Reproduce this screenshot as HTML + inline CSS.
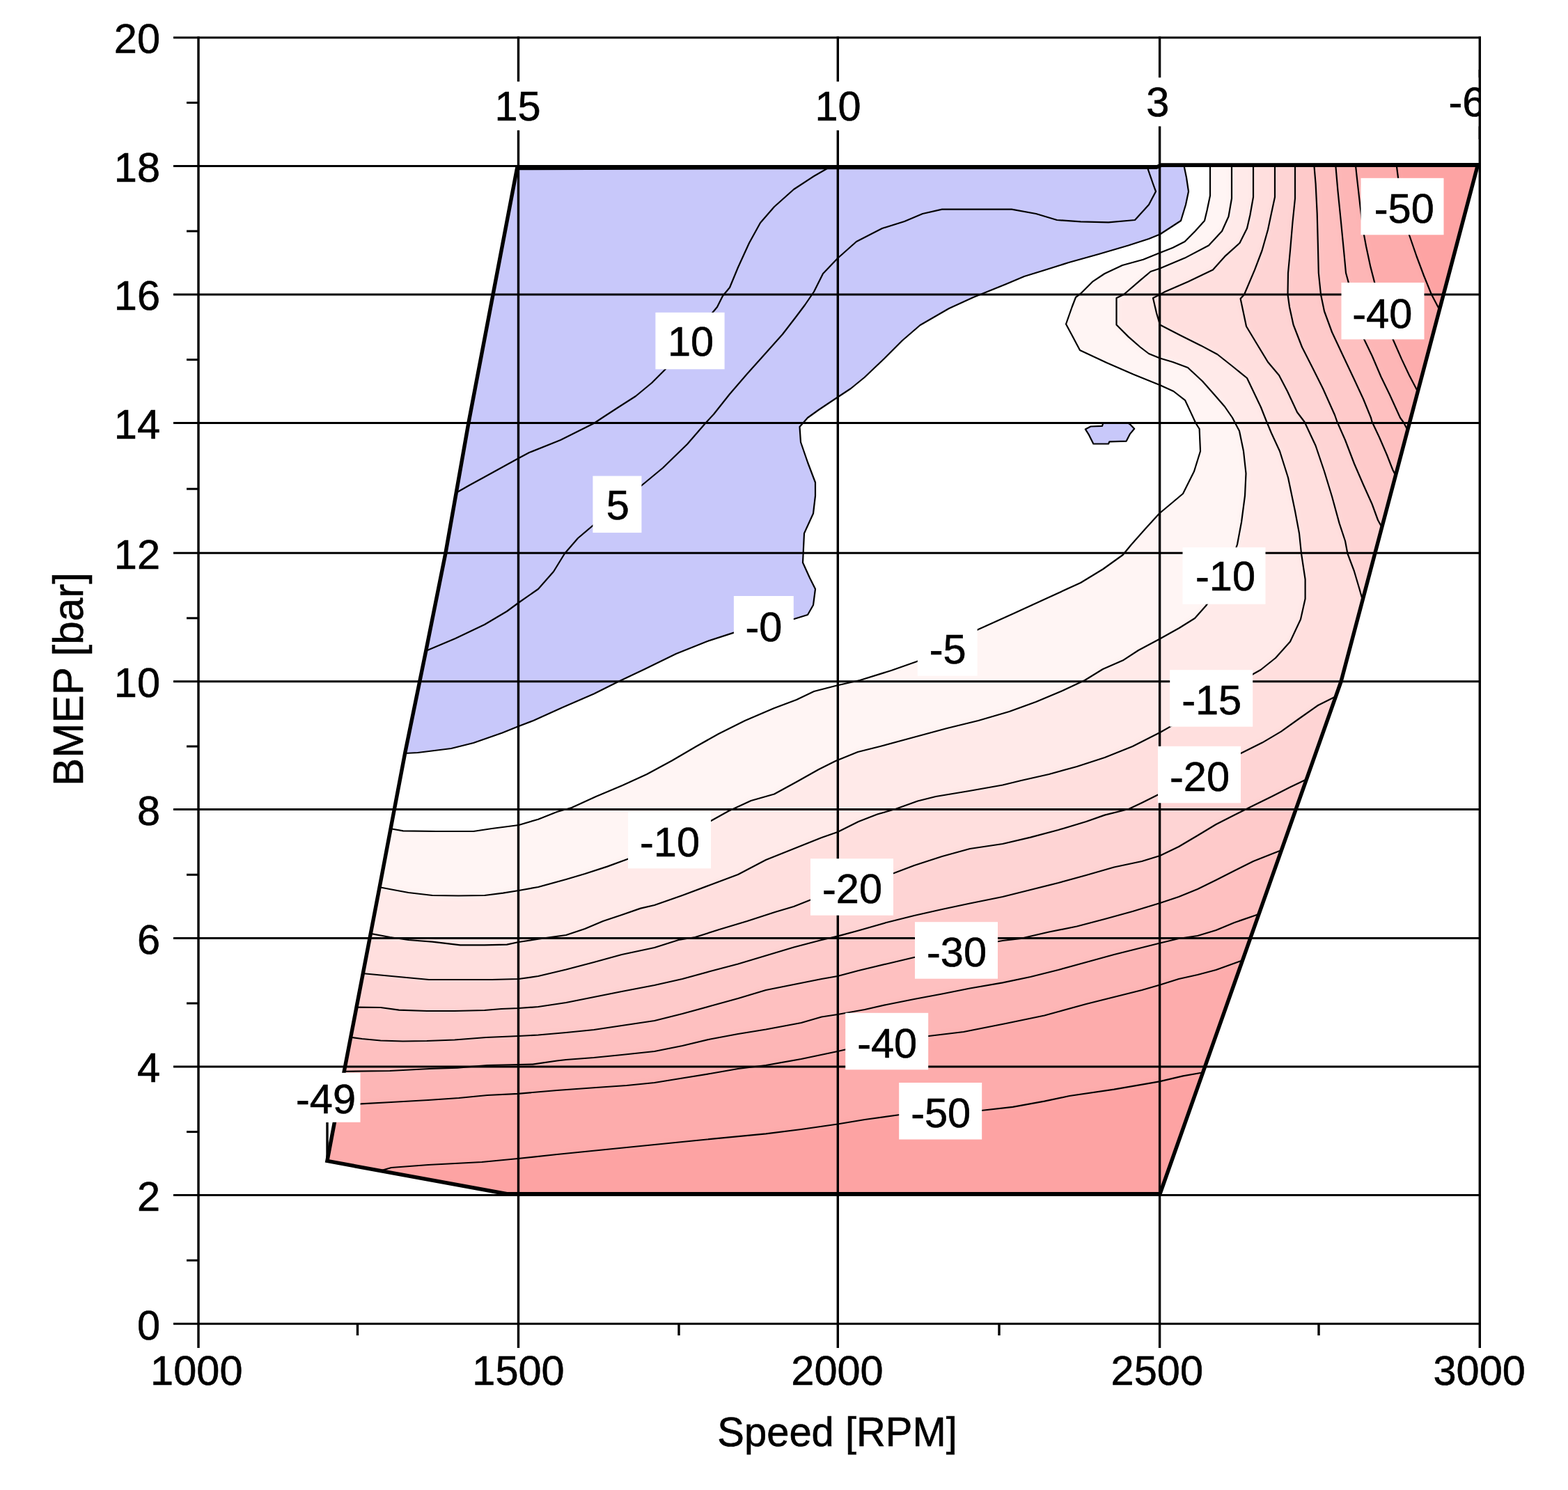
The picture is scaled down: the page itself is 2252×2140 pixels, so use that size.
<!DOCTYPE html>
<html lang="en"><head><meta charset="utf-8"><title>BMEP vs Speed contour map</title>
<style>html,body{margin:0;padding:0;background:#fff}body{width:2252px;height:2140px;overflow:hidden}svg{display:block}text{font-family:'Liberation Sans', Arial, Helvetica, sans-serif;font-size:59.5px;fill:#000;stroke:#000;stroke-width:0.6px}</style></head><body>
<svg width="2252" height="2140" viewBox="0 0 2252 2140" role="img" aria-label="Contour map of BMEP versus engine speed">
<defs>
<clipPath id="cp"><path d="M742.6,241.6 L1100.0,240.6 L1661.0,240.2 L1668.0,237.0 L2122.5,236.7 L1926.0,979.0 L1666.0,1714.7 L728.0,1714.7 L469.9,1667.4 L494.8,1536.0 L544.6,1277.0 L582.0,1080.0 L611.5,936.0 L640.0,794.0 L673.0,607.0Z"/></clipPath>
<clipPath id="plot"><rect x="0" y="0" width="2125.3" height="2140"/></clipPath>
<filter id="bl" filterUnits="userSpaceOnUse" x="0" y="0" width="2252" height="2140" color-interpolation-filters="sRGB"><feGaussianBlur stdDeviation="5"/></filter>
</defs>
<rect width="2252" height="2140" fill="#fff"/>
<g clip-path="url(#cp)">
<rect width="2252" height="2140" fill="#fff"/>
<g filter="url(#bl)">
<rect x="-50" y="-50" width="2352" height="2240" fill="rgb(255,245,244)"/>
<path d="M1769.0,150.0 L1769.0,238.0 L1769.0,285.0 L1764.5,311.0 L1755.0,332.0 L1736.0,352.5 L1701.6,370.6 L1666.0,385.5 L1652.6,390.0 L1637.6,402.6 L1614.0,423.0 L1603.5,428.0 L1603.5,466.5 L1620.6,483.6 L1637.6,498.5 L1650.0,508.0 L1666.0,514.5 L1684.5,520.0 L1706.0,528.0 L1727.0,547.5 L1744.0,566.7 L1759.0,584.0 L1770.0,600.0 L1780.0,619.0 L1786.0,648.0 L1789.5,680.0 L1788.0,712.0 L1783.0,750.0 L1777.0,782.0 L1760.0,830.0 L1732.0,870.0 L1716.0,888.0 L1693.6,902.0 L1665.0,918.0 L1635.0,934.0 L1612.6,948.6 L1584.0,961.0 L1558.0,977.0 L1526.0,992.0 L1488.0,1008.0 L1449.5,1022.0 L1405.0,1035.0 L1360.0,1046.0 L1312.0,1059.0 L1264.0,1072.0 L1232.0,1080.0 L1200.0,1093.0 L1176.0,1105.0 L1144.0,1123.0 L1112.0,1140.5 L1078.6,1150.0 L1046.6,1164.7 L1021.0,1179.0 L960.0,1208.0 L901.0,1234.0 L872.0,1244.6 L840.0,1255.0 L813.0,1263.0 L773.0,1274.0 L745.0,1279.0 L722.5,1282.7 L696.0,1286.0 L658.5,1286.5 L621.0,1286.0 L586.6,1282.0 L565.0,1278.0 L544.0,1274.0 L504.7,1266.5 L-50.0,1266.5 L-50.0,2190.0 L2302.0,2190.0 L2302.0,-50.0 L1769.0,-50.0Z" fill="rgb(255,234,233)"/>
<path d="M1800.0,150.0 L1800.0,238.0 L1800.0,283.0 L1795.4,309.0 L1791.0,328.0 L1780.5,349.0 L1759.0,368.4 L1742.0,387.6 L1706.0,404.7 L1672.0,419.6 L1666.0,423.0 L1656.0,428.0 L1661.0,449.5 L1666.0,466.5 L1695.0,481.4 L1725.0,496.4 L1748.5,509.0 L1770.0,526.0 L1791.0,543.0 L1801.0,564.0 L1811.0,585.0 L1818.5,604.0 L1826.0,622.0 L1838.0,648.0 L1850.0,686.0 L1860.0,734.0 L1866.0,766.0 L1869.0,795.0 L1874.6,832.0 L1874.6,860.0 L1868.0,889.5 L1853.0,921.5 L1832.0,945.0 L1810.7,962.0 L1800.0,968.0 L1740.0,1008.0 L1682.5,1042.6 L1666.0,1052.0 L1626.6,1072.0 L1586.6,1088.0 L1546.6,1101.0 L1506.6,1112.0 L1466.7,1121.0 L1440.0,1127.5 L1392.0,1136.0 L1344.0,1144.0 L1318.0,1150.5 L1286.0,1162.0 L1260.0,1169.5 L1233.0,1180.0 L1203.0,1195.0 L1180.0,1203.0 L1140.0,1219.0 L1100.0,1235.0 L1060.0,1256.0 L1020.0,1271.0 L980.0,1286.0 L940.0,1300.0 L920.0,1304.6 L893.0,1314.0 L866.0,1323.0 L840.0,1334.0 L813.0,1343.0 L773.0,1348.6 L745.0,1353.0 L728.0,1356.6 L696.0,1357.4 L661.0,1357.4 L621.0,1352.6 L586.6,1350.0 L560.0,1346.0 L531.0,1340.6 L491.7,1333.3 L-50.0,1333.3 L-50.0,2190.0 L2302.0,2190.0 L2302.0,-50.0 L1800.0,-50.0Z" fill="rgb(255,223,222)"/>
<path d="M1831.0,150.0 L1831.0,238.0 L1831.0,283.0 L1825.0,311.0 L1821.0,330.0 L1812.5,360.0 L1802.0,387.6 L1787.0,423.0 L1781.6,429.0 L1785.0,445.0 L1790.0,468.7 L1804.0,492.0 L1821.0,520.0 L1837.0,539.0 L1849.0,562.0 L1863.0,592.0 L1873.6,606.0 L1889.5,640.0 L1902.0,677.0 L1913.0,713.0 L1923.6,751.6 L1932.0,777.0 L1935.4,795.0 L1944.8,820.0 L1952.5,846.0 L1957.0,862.0 L1963.8,886.1 L2060.0,930.0 L1937.4,990.8 L1915.0,1002.0 L1893.0,1013.0 L1866.0,1032.0 L1840.0,1050.6 L1813.0,1066.6 L1781.0,1082.6 L1722.0,1112.0 L1664.0,1141.0 L1640.0,1153.0 L1621.0,1162.0 L1586.6,1170.6 L1560.0,1180.0 L1520.0,1192.0 L1480.0,1202.6 L1440.0,1212.0 L1393.0,1219.0 L1353.0,1230.0 L1313.0,1243.0 L1284.0,1254.0 L1223.0,1273.0 L1164.0,1292.6 L1140.0,1302.0 L1113.0,1310.0 L1073.0,1323.0 L1033.0,1335.0 L998.6,1346.0 L974.6,1350.0 L940.0,1361.0 L893.0,1371.0 L853.0,1382.0 L813.0,1392.5 L773.0,1402.0 L745.0,1406.0 L706.5,1407.0 L653.0,1407.0 L616.0,1407.0 L573.0,1403.0 L546.6,1400.5 L520.0,1398.0 L480.2,1394.3 L-50.0,1394.3 L-50.0,2190.0 L2302.0,2190.0 L2302.0,-50.0 L1831.0,-50.0Z" fill="rgb(254,212,212)"/>
<path d="M1860.0,150.0 L1860.0,238.0 L1860.0,285.0 L1856.5,319.0 L1853.0,360.0 L1850.0,392.0 L1849.5,423.0 L1852.0,441.0 L1857.6,466.5 L1870.0,498.5 L1885.0,528.0 L1900.0,558.0 L1917.0,596.0 L1920.5,606.0 L1932.0,632.0 L1945.0,666.0 L1958.0,696.0 L1970.6,724.0 L1979.0,747.0 L1985.0,758.0 L1997.0,779.9 L2080.0,930.0 L1897.5,1109.1 L1875.0,1120.0 L1853.0,1130.6 L1826.5,1144.0 L1800.0,1157.0 L1773.0,1170.6 L1746.5,1184.0 L1720.0,1200.0 L1693.0,1216.0 L1666.0,1229.0 L1640.0,1237.0 L1600.0,1245.5 L1560.0,1257.0 L1520.0,1268.0 L1480.0,1278.0 L1440.0,1288.0 L1393.0,1297.5 L1353.0,1306.0 L1313.0,1315.0 L1273.0,1325.0 L1233.0,1336.5 L1203.0,1344.6 L1180.0,1350.0 L1140.0,1360.5 L1100.0,1372.5 L1060.0,1384.5 L1020.0,1395.0 L980.0,1406.0 L940.0,1415.0 L893.0,1424.0 L853.0,1432.0 L813.0,1440.0 L773.0,1446.0 L745.0,1448.0 L720.0,1449.0 L696.0,1451.0 L653.0,1452.0 L613.0,1452.0 L573.0,1450.6 L546.6,1447.0 L511.0,1446.6 L471.0,1446.2 L-50.0,1446.2 L-50.0,2190.0 L2302.0,2190.0 L2302.0,-50.0 L1860.0,-50.0Z" fill="rgb(254,202,202)"/>
<path d="M1887.4,150.0 L1887.4,238.0 L1889.6,264.0 L1891.7,306.6 L1892.8,349.0 L1893.8,392.0 L1897.0,423.0 L1902.0,447.0 L1913.0,477.0 L1928.0,509.0 L1945.0,545.0 L1958.0,573.0 L1969.0,600.0 L1970.6,606.0 L1981.0,628.0 L1992.0,653.5 L2000.4,675.0 L2005.0,684.0 L2016.4,706.3 L2100.0,930.0 L1861.3,1212.9 L1838.0,1222.0 L1826.5,1226.5 L1800.0,1237.0 L1773.0,1250.5 L1746.5,1264.0 L1720.0,1277.0 L1693.0,1288.0 L1666.0,1297.0 L1626.6,1309.0 L1586.6,1320.0 L1546.6,1330.5 L1506.6,1338.5 L1466.7,1347.8 L1440.0,1351.0 L1373.0,1363.0 L1313.0,1375.0 L1273.0,1384.5 L1233.0,1394.0 L1203.0,1402.0 L1180.0,1406.0 L1140.0,1414.0 L1100.0,1422.0 L1060.0,1434.0 L1020.0,1445.0 L980.0,1456.0 L940.0,1466.0 L893.0,1473.0 L853.0,1479.0 L813.0,1483.0 L773.0,1486.5 L745.0,1488.0 L698.0,1490.0 L653.0,1493.5 L613.0,1495.0 L578.6,1495.5 L546.6,1494.5 L520.0,1492.0 L501.0,1489.5 L461.3,1484.3 L-50.0,1484.3 L-50.0,2190.0 L2302.0,2190.0 L2302.0,-50.0 L1887.4,-50.0Z" fill="rgb(254,192,192)"/>
<path d="M1918.3,150.0 L1918.3,238.0 L1921.5,274.6 L1925.8,317.0 L1930.0,360.0 L1933.0,392.0 L1936.5,404.7 L1945.0,440.0 L1952.0,465.0 L1959.0,487.0 L1970.6,511.0 L1983.4,541.0 L1996.0,567.0 L2011.0,600.0 L2015.4,606.0 L2024.0,622.0 L2035.8,644.0 L2120.0,930.0 L1825.6,1306.9 L1802.0,1315.0 L1773.0,1325.0 L1746.5,1336.0 L1720.0,1344.0 L1693.0,1348.0 L1666.0,1354.5 L1640.0,1361.0 L1600.0,1371.0 L1560.0,1382.0 L1520.0,1393.0 L1480.0,1403.0 L1440.0,1411.4 L1393.0,1419.5 L1353.0,1427.5 L1313.0,1435.0 L1273.0,1443.0 L1242.0,1450.0 L1203.0,1457.0 L1180.0,1460.5 L1150.7,1469.0 L1100.0,1478.5 L1060.0,1485.0 L1020.0,1492.5 L980.0,1502.0 L940.0,1510.0 L893.0,1515.0 L853.0,1519.0 L813.0,1522.0 L800.0,1523.5 L765.0,1528.6 L745.0,1529.0 L700.0,1530.0 L657.0,1533.7 L617.0,1535.0 L560.0,1538.0 L494.0,1538.8 L454.0,1539.3 L-50.0,1539.3 L-50.0,2190.0 L2302.0,2190.0 L2302.0,-50.0 L1918.3,-50.0Z" fill="rgb(253,182,182)"/>
<path d="M1947.0,150.0 L1947.0,238.0 L1949.0,256.5 L1953.5,296.0 L1958.0,332.0 L1962.0,353.5 L1968.4,383.4 L1974.0,405.0 L1983.0,430.0 L1992.0,460.0 L2000.4,487.0 L2013.0,515.6 L2024.0,539.0 L2037.0,564.0 L2048.5,586.2 L2140.0,930.0 L1800.5,1373.5 L1777.0,1382.0 L1746.5,1393.0 L1720.0,1400.0 L1693.0,1406.0 L1666.0,1414.5 L1640.0,1422.0 L1600.0,1432.0 L1560.0,1442.0 L1520.0,1453.0 L1500.0,1458.5 L1444.5,1470.0 L1384.0,1482.0 L1334.0,1488.0 L1273.0,1497.0 L1214.0,1507.5 L1203.0,1510.0 L1150.7,1521.0 L1100.0,1530.0 L1060.0,1535.0 L1020.0,1542.0 L980.0,1548.5 L940.0,1555.0 L900.0,1559.0 L856.0,1562.0 L800.0,1566.0 L744.0,1570.8 L700.0,1573.0 L659.0,1577.0 L615.0,1580.0 L562.0,1583.0 L518.5,1585.4 L484.0,1586.0 L444.0,1586.7 L-50.0,1586.7 L-50.0,2190.0 L2302.0,2190.0 L2302.0,-50.0 L1947.0,-50.0Z" fill="rgb(253,172,172)"/>
<path d="M2005.8,150.0 L2005.8,238.0 L2008.0,255.0 L2013.0,290.0 L2019.0,320.0 L2024.0,337.5 L2034.5,368.0 L2045.0,396.0 L2056.0,423.0 L2067.0,444.0 L2078.6,466.1 L2160.0,930.0 L1748.6,1536.7 L1724.0,1541.0 L1699.0,1545.4 L1665.0,1553.4 L1600.0,1564.6 L1536.0,1574.0 L1500.0,1581.7 L1454.6,1589.8 L1409.0,1595.0 L1350.0,1598.0 L1292.5,1601.0 L1242.0,1608.0 L1203.0,1614.5 L1150.7,1622.0 L1100.0,1628.3 L1000.0,1638.0 L900.0,1648.0 L800.0,1658.0 L744.0,1664.0 L692.0,1669.0 L615.0,1673.0 L562.0,1677.0 L548.0,1681.0 L509.5,1692.0 L-50.0,1692.0 L-50.0,2190.0 L2302.0,2190.0 L2302.0,-50.0 L2005.8,-50.0Z" fill="rgb(253,163,163)"/>
</g>
<path d="M1738.0,150.0 L1738.0,238.0 L1738.0,281.0 L1733.6,302.0 L1730.0,317.0 L1716.5,332.0 L1701.6,347.0 L1684.5,355.7 L1666.0,363.0 L1642.0,372.7 L1612.0,381.0 L1586.5,393.0 L1569.0,404.7 L1552.0,421.7 L1545.0,427.0 L1539.6,441.0 L1531.0,465.5 L1539.6,481.4 L1551.0,503.0 L1589.5,521.0 L1628.0,537.7 L1665.7,553.0 L1685.5,562.0 L1702.0,574.8 L1709.8,591.4 L1717.5,608.0 L1722.6,616.0 L1724.0,648.0 L1715.0,677.0 L1699.0,709.0 L1680.0,725.0 L1665.0,737.5 L1644.5,760.0 L1625.0,782.0 L1612.6,797.0 L1584.0,817.5 L1552.0,837.0 L1504.0,859.0 L1456.0,881.0 L1405.0,904.0 L1317.0,950.0 L1280.0,963.0 L1235.0,977.0 L1200.0,985.0 L1169.0,993.0 L1144.0,1005.0 L1112.0,1017.0 L1070.0,1035.0 L1032.0,1054.0 L1000.0,1072.0 L965.0,1092.5 L929.0,1112.0 L894.0,1128.0 L856.0,1144.0 L821.0,1160.0 L800.0,1166.0 L773.0,1176.7 L745.0,1185.0 L706.5,1190.0 L680.0,1194.0 L627.0,1194.0 L579.0,1193.4 L560.0,1190.0 L520.6,1183.0 L-50.0,1183.0 L-50.0,-50.0 L1738.0,-50.0Z" fill="#fff"/>
<path d="M1700.5,150.0 L1700.5,238.0 L1704.0,255.0 L1707.0,275.0 L1703.0,294.0 L1696.0,317.0 L1666.0,336.5 L1650.0,343.0 L1620.6,352.5 L1578.0,365.0 L1535.0,377.0 L1497.0,389.0 L1471.0,397.0 L1445.0,408.0 L1398.0,427.0 L1363.0,443.0 L1321.5,467.0 L1296.0,489.0 L1270.0,515.0 L1241.6,542.0 L1222.0,558.0 L1200.0,572.5 L1176.0,588.5 L1160.0,600.0 L1148.5,613.0 L1150.0,635.0 L1160.0,664.0 L1171.0,693.0 L1171.0,712.0 L1168.0,737.5 L1155.0,766.0 L1153.0,808.0 L1163.0,830.0 L1171.0,846.0 L1168.0,869.0 L1160.0,883.0 L1140.5,889.0 L1100.0,893.0 L1054.0,908.6 L1016.0,921.0 L971.0,939.0 L926.0,961.0 L888.0,979.0 L853.0,996.6 L808.0,1016.0 L766.0,1035.0 L745.0,1043.0 L721.5,1052.5 L680.0,1067.0 L648.0,1075.0 L600.0,1081.0 L581.0,1082.0 L541.1,1084.1 L-50.0,1084.1 L-50.0,-50.0 L1700.5,-50.0Z" fill="#c8c8fa"/>
<path d="M1558.8,616.4 L1566.5,612.5 L1583.0,611.9 L1584.4,607.5 L1620.3,607.5 L1622.8,609.3 L1629.2,615.7 L1622.8,623.4 L1617.7,633.6 L1593.4,634.3 L1592.0,637.5 L1570.4,637.5 L1564.0,624.7Z" fill="#c8c8fa"/>
<g fill="none" stroke="#000" stroke-width="2.2" stroke-linejoin="round">
<path d="M1200.2,235.0 L1195.0,238.0 L1169.0,253.0 L1140.0,272.0 L1112.0,297.0 L1092.0,320.0 L1076.0,349.0 L1060.0,384.0 L1048.0,413.0 L1038.0,425.0 L1030.0,441.0 L955.0,531.0 L936.0,550.0 L913.0,569.0 L888.0,585.0 L865.0,600.0 L853.0,608.0 L805.0,632.0 L760.0,650.0 L745.0,658.0 L696.0,685.0 L674.0,697.0 L653.0,709.0 L647.8,712.0"/>
<path d="M1645.0,232.3 L1647.0,238.0 L1656.0,264.0 L1660.0,275.0 L1650.0,294.0 L1630.0,316.0 L1592.0,319.4 L1552.0,318.3 L1518.0,316.0 L1488.0,307.0 L1453.0,300.6 L1405.0,300.6 L1353.0,300.6 L1325.0,307.0 L1299.0,318.0 L1267.0,328.0 L1230.0,347.0 L1203.0,371.0 L1182.0,393.0 L1169.0,419.0 L1156.0,438.0 L1144.0,454.0 L1124.0,480.0 L1099.0,508.0 L1073.0,537.0 L1048.0,566.0 L1025.0,595.0 L1013.0,608.0 L987.0,638.0 L952.0,672.0 L923.0,696.0 L853.0,753.5 L830.0,773.0 L811.0,795.0 L795.0,821.0 L773.0,846.0 L745.0,865.5 L728.0,878.0 L696.0,897.0 L654.0,917.0 L609.0,936.0 L603.5,938.3"/>
<path d="M1699.3,232.1 L1700.5,238.0 L1704.0,255.0 L1707.0,275.0 L1703.0,294.0 L1696.0,317.0 L1666.0,336.5 L1650.0,343.0 L1620.6,352.5 L1578.0,365.0 L1535.0,377.0 L1497.0,389.0 L1471.0,397.0 L1445.0,408.0 L1398.0,427.0 L1363.0,443.0 L1321.5,467.0 L1296.0,489.0 L1270.0,515.0 L1241.6,542.0 L1222.0,558.0 L1200.0,572.5 L1176.0,588.5 L1160.0,600.0 L1148.5,613.0 L1150.0,635.0 L1160.0,664.0 L1171.0,693.0 L1171.0,712.0 L1168.0,737.5 L1155.0,766.0 L1153.0,808.0 L1163.0,830.0 L1171.0,846.0 L1168.0,869.0 L1160.0,883.0 L1140.5,889.0 L1100.0,893.0 L1054.0,908.6 L1016.0,921.0 L971.0,939.0 L926.0,961.0 L888.0,979.0 L853.0,996.6 L808.0,1016.0 L766.0,1035.0 L745.0,1043.0 L721.5,1052.5 L680.0,1067.0 L648.0,1075.0 L600.0,1081.0 L581.0,1082.0 L575.0,1082.3"/>
<path d="M1738.0,232.0 L1738.0,238.0 L1738.0,281.0 L1733.6,302.0 L1730.0,317.0 L1716.5,332.0 L1701.6,347.0 L1684.5,355.7 L1666.0,363.0 L1642.0,372.7 L1612.0,381.0 L1586.5,393.0 L1569.0,404.7 L1552.0,421.7 L1545.0,427.0 L1539.6,441.0 L1531.0,465.5 L1539.6,481.4 L1551.0,503.0 L1589.5,521.0 L1628.0,537.7 L1665.7,553.0 L1685.5,562.0 L1702.0,574.8 L1709.8,591.4 L1717.5,608.0 L1722.6,616.0 L1724.0,648.0 L1715.0,677.0 L1699.0,709.0 L1680.0,725.0 L1665.0,737.5 L1644.5,760.0 L1625.0,782.0 L1612.6,797.0 L1584.0,817.5 L1552.0,837.0 L1504.0,859.0 L1456.0,881.0 L1405.0,904.0 L1317.0,950.0 L1280.0,963.0 L1235.0,977.0 L1200.0,985.0 L1169.0,993.0 L1144.0,1005.0 L1112.0,1017.0 L1070.0,1035.0 L1032.0,1054.0 L1000.0,1072.0 L965.0,1092.5 L929.0,1112.0 L894.0,1128.0 L856.0,1144.0 L821.0,1160.0 L800.0,1166.0 L773.0,1176.7 L745.0,1185.0 L706.5,1190.0 L680.0,1194.0 L627.0,1194.0 L579.0,1193.4 L560.0,1190.0 L554.1,1188.9"/>
<path d="M1769.0,232.0 L1769.0,238.0 L1769.0,285.0 L1764.5,311.0 L1755.0,332.0 L1736.0,352.5 L1701.6,370.6 L1666.0,385.5 L1652.6,390.0 L1637.6,402.6 L1614.0,423.0 L1603.5,428.0 L1603.5,466.5 L1620.6,483.6 L1637.6,498.5 L1650.0,508.0 L1666.0,514.5 L1684.5,520.0 L1706.0,528.0 L1727.0,547.5 L1744.0,566.7 L1759.0,584.0 L1770.0,600.0 L1780.0,619.0 L1786.0,648.0 L1789.5,680.0 L1788.0,712.0 L1783.0,750.0 L1777.0,782.0 L1760.0,830.0 L1732.0,870.0 L1716.0,888.0 L1693.6,902.0 L1665.0,918.0 L1635.0,934.0 L1612.6,948.6 L1584.0,961.0 L1558.0,977.0 L1526.0,992.0 L1488.0,1008.0 L1449.5,1022.0 L1405.0,1035.0 L1360.0,1046.0 L1312.0,1059.0 L1264.0,1072.0 L1232.0,1080.0 L1200.0,1093.0 L1176.0,1105.0 L1144.0,1123.0 L1112.0,1140.5 L1078.6,1150.0 L1046.6,1164.7 L1021.0,1179.0 L960.0,1208.0 L901.0,1234.0 L872.0,1244.6 L840.0,1255.0 L813.0,1263.0 L773.0,1274.0 L745.0,1279.0 L722.5,1282.7 L696.0,1286.0 L658.5,1286.5 L621.0,1286.0 L586.6,1282.0 L565.0,1278.0 L544.0,1274.0 L538.1,1272.9"/>
<path d="M1800.0,232.0 L1800.0,238.0 L1800.0,283.0 L1795.4,309.0 L1791.0,328.0 L1780.5,349.0 L1759.0,368.4 L1742.0,387.6 L1706.0,404.7 L1672.0,419.6 L1666.0,423.0 L1656.0,428.0 L1661.0,449.5 L1666.0,466.5 L1695.0,481.4 L1725.0,496.4 L1748.5,509.0 L1770.0,526.0 L1791.0,543.0 L1801.0,564.0 L1811.0,585.0 L1818.5,604.0 L1826.0,622.0 L1838.0,648.0 L1850.0,686.0 L1860.0,734.0 L1866.0,766.0 L1869.0,795.0 L1874.6,832.0 L1874.6,860.0 L1868.0,889.5 L1853.0,921.5 L1832.0,945.0 L1810.7,962.0 L1800.0,968.0 L1740.0,1008.0 L1682.5,1042.6 L1666.0,1052.0 L1626.6,1072.0 L1586.6,1088.0 L1546.6,1101.0 L1506.6,1112.0 L1466.7,1121.0 L1440.0,1127.5 L1392.0,1136.0 L1344.0,1144.0 L1318.0,1150.5 L1286.0,1162.0 L1260.0,1169.5 L1233.0,1180.0 L1203.0,1195.0 L1180.0,1203.0 L1140.0,1219.0 L1100.0,1235.0 L1060.0,1256.0 L1020.0,1271.0 L980.0,1286.0 L940.0,1300.0 L920.0,1304.6 L893.0,1314.0 L866.0,1323.0 L840.0,1334.0 L813.0,1343.0 L773.0,1348.6 L745.0,1353.0 L728.0,1356.6 L696.0,1357.4 L661.0,1357.4 L621.0,1352.6 L586.6,1350.0 L560.0,1346.0 L531.0,1340.6 L525.1,1339.5"/>
<path d="M1831.0,232.0 L1831.0,238.0 L1831.0,283.0 L1825.0,311.0 L1821.0,330.0 L1812.5,360.0 L1802.0,387.6 L1787.0,423.0 L1781.6,429.0 L1785.0,445.0 L1790.0,468.7 L1804.0,492.0 L1821.0,520.0 L1837.0,539.0 L1849.0,562.0 L1863.0,592.0 L1873.6,606.0 L1889.5,640.0 L1902.0,677.0 L1913.0,713.0 L1923.6,751.6 L1932.0,777.0 L1935.4,795.0 L1944.8,820.0 L1952.5,846.0 L1957.0,862.0 L1958.6,867.8"/>
<path d="M1920.4,999.3 L1915.0,1002.0 L1893.0,1013.0 L1866.0,1032.0 L1840.0,1050.6 L1813.0,1066.6 L1781.0,1082.6 L1722.0,1112.0 L1664.0,1141.0 L1640.0,1153.0 L1621.0,1162.0 L1586.6,1170.6 L1560.0,1180.0 L1520.0,1192.0 L1480.0,1202.6 L1440.0,1212.0 L1393.0,1219.0 L1353.0,1230.0 L1313.0,1243.0 L1284.0,1254.0 L1223.0,1273.0 L1164.0,1292.6 L1140.0,1302.0 L1113.0,1310.0 L1073.0,1323.0 L1033.0,1335.0 L998.6,1346.0 L974.6,1350.0 L940.0,1361.0 L893.0,1371.0 L853.0,1382.0 L813.0,1392.5 L773.0,1402.0 L745.0,1406.0 L706.5,1407.0 L653.0,1407.0 L616.0,1407.0 L573.0,1403.0 L546.6,1400.5 L520.0,1398.0 L514.0,1397.4"/>
<path d="M1860.0,232.0 L1860.0,238.0 L1860.0,285.0 L1856.5,319.0 L1853.0,360.0 L1850.0,392.0 L1849.5,423.0 L1852.0,441.0 L1857.6,466.5 L1870.0,498.5 L1885.0,528.0 L1900.0,558.0 L1917.0,596.0 L1920.5,606.0 L1932.0,632.0 L1945.0,666.0 L1958.0,696.0 L1970.6,724.0 L1979.0,747.0 L1985.0,758.0 L1987.9,763.3"/>
<path d="M1880.4,1117.4 L1875.0,1120.0 L1853.0,1130.6 L1826.5,1144.0 L1800.0,1157.0 L1773.0,1170.6 L1746.5,1184.0 L1720.0,1200.0 L1693.0,1216.0 L1666.0,1229.0 L1640.0,1237.0 L1600.0,1245.5 L1560.0,1257.0 L1520.0,1268.0 L1480.0,1278.0 L1440.0,1288.0 L1393.0,1297.5 L1353.0,1306.0 L1313.0,1315.0 L1273.0,1325.0 L1233.0,1336.5 L1203.0,1344.6 L1180.0,1350.0 L1140.0,1360.5 L1100.0,1372.5 L1060.0,1384.5 L1020.0,1395.0 L980.0,1406.0 L940.0,1415.0 L893.0,1424.0 L853.0,1432.0 L813.0,1440.0 L773.0,1446.0 L745.0,1448.0 L720.0,1449.0 L696.0,1451.0 L653.0,1452.0 L613.0,1452.0 L573.0,1450.6 L546.6,1447.0 L511.0,1446.6 L505.0,1446.5"/>
<path d="M1886.9,232.0 L1887.4,238.0 L1889.6,264.0 L1891.7,306.6 L1892.8,349.0 L1893.8,392.0 L1897.0,423.0 L1902.0,447.0 L1913.0,477.0 L1928.0,509.0 L1945.0,545.0 L1958.0,573.0 L1969.0,600.0 L1970.6,606.0 L1981.0,628.0 L1992.0,653.5 L2000.4,675.0 L2005.0,684.0 L2007.7,689.3"/>
<path d="M1843.6,1219.8 L1838.0,1222.0 L1826.5,1226.5 L1800.0,1237.0 L1773.0,1250.5 L1746.5,1264.0 L1720.0,1277.0 L1693.0,1288.0 L1666.0,1297.0 L1626.6,1309.0 L1586.6,1320.0 L1546.6,1330.5 L1506.6,1338.5 L1466.7,1347.8 L1440.0,1351.0 L1373.0,1363.0 L1313.0,1375.0 L1273.0,1384.5 L1233.0,1394.0 L1203.0,1402.0 L1180.0,1406.0 L1140.0,1414.0 L1100.0,1422.0 L1060.0,1434.0 L1020.0,1445.0 L980.0,1456.0 L940.0,1466.0 L893.0,1473.0 L853.0,1479.0 L813.0,1483.0 L773.0,1486.5 L745.0,1488.0 L698.0,1490.0 L653.0,1493.5 L613.0,1495.0 L578.6,1495.5 L546.6,1494.5 L520.0,1492.0 L501.0,1489.5 L495.1,1488.7"/>
<path d="M1917.8,232.0 L1918.3,238.0 L1921.5,274.6 L1925.8,317.0 L1930.0,360.0 L1933.0,392.0 L1936.5,404.7 L1945.0,440.0 L1952.0,465.0 L1959.0,487.0 L1970.6,511.0 L1983.4,541.0 L1996.0,567.0 L2011.0,600.0 L2015.4,606.0 L2024.0,622.0 L2026.8,627.3"/>
<path d="M1807.7,1313.0 L1802.0,1315.0 L1773.0,1325.0 L1746.5,1336.0 L1720.0,1344.0 L1693.0,1348.0 L1666.0,1354.5 L1640.0,1361.0 L1600.0,1371.0 L1560.0,1382.0 L1520.0,1393.0 L1480.0,1403.0 L1440.0,1411.4 L1393.0,1419.5 L1353.0,1427.5 L1313.0,1435.0 L1273.0,1443.0 L1242.0,1450.0 L1203.0,1457.0 L1180.0,1460.5 L1150.7,1469.0 L1100.0,1478.5 L1060.0,1485.0 L1020.0,1492.5 L980.0,1502.0 L940.0,1510.0 L893.0,1515.0 L853.0,1519.0 L813.0,1522.0 L800.0,1523.5 L765.0,1528.6 L745.0,1529.0 L700.0,1530.0 L657.0,1533.7 L617.0,1535.0 L560.0,1538.0 L494.0,1538.8 L488.0,1538.9"/>
<path d="M1946.4,232.0 L1947.0,238.0 L1949.0,256.5 L1953.5,296.0 L1958.0,332.0 L1962.0,353.5 L1968.4,383.4 L1974.0,405.0 L1983.0,430.0 L1992.0,460.0 L2000.4,487.0 L2013.0,515.6 L2024.0,539.0 L2037.0,564.0 L2039.8,569.3"/>
<path d="M1782.6,1380.0 L1777.0,1382.0 L1746.5,1393.0 L1720.0,1400.0 L1693.0,1406.0 L1666.0,1414.5 L1640.0,1422.0 L1600.0,1432.0 L1560.0,1442.0 L1520.0,1453.0 L1500.0,1458.5 L1444.5,1470.0 L1384.0,1482.0 L1334.0,1488.0 L1273.0,1497.0 L1214.0,1507.5 L1203.0,1510.0 L1150.7,1521.0 L1100.0,1530.0 L1060.0,1535.0 L1020.0,1542.0 L980.0,1548.5 L940.0,1555.0 L900.0,1559.0 L856.0,1562.0 L800.0,1566.0 L744.0,1570.8 L700.0,1573.0 L659.0,1577.0 L615.0,1580.0 L562.0,1583.0 L518.5,1585.4 L484.0,1586.0 L478.0,1586.1"/>
<path d="M2005.0,232.0 L2005.8,238.0 L2008.0,255.0 L2013.0,290.0 L2019.0,320.0 L2024.0,337.5 L2034.5,368.0 L2045.0,396.0 L2056.0,423.0 L2067.0,444.0 L2069.8,449.3"/>
<path d="M1729.9,1540.0 L1724.0,1541.0 L1699.0,1545.4 L1665.0,1553.4 L1600.0,1564.6 L1536.0,1574.0 L1500.0,1581.7 L1454.6,1589.8 L1409.0,1595.0 L1350.0,1598.0 L1292.5,1601.0 L1242.0,1608.0 L1203.0,1614.5 L1150.7,1622.0 L1100.0,1628.3 L1000.0,1638.0 L900.0,1648.0 L800.0,1658.0 L744.0,1664.0 L692.0,1669.0 L615.0,1673.0 L562.0,1677.0 L548.0,1681.0 L542.2,1682.6"/>
<path d="M1558.8,616.4 L1566.5,612.5 L1583.0,611.9 L1584.4,607.5 L1620.3,607.5 L1622.8,609.3 L1629.2,615.7 L1622.8,623.4 L1617.7,633.6 L1593.4,634.3 L1592.0,637.5 L1570.4,637.5 L1564.0,624.7Z"/>
</g>
</g>
<g stroke="#000" stroke-width="3.0" fill="none">
<line x1="249" y1="1901.3" x2="2127.0" y2="1901.3"/>
<line x1="249" y1="1716.6" x2="2127.0" y2="1716.6"/>
<line x1="249" y1="1532.0" x2="2127.0" y2="1532.0"/>
<line x1="249" y1="1347.5" x2="2127.0" y2="1347.5"/>
<line x1="249" y1="1162.5" x2="2127.0" y2="1162.5"/>
<line x1="249" y1="978.8" x2="2127.0" y2="978.8"/>
<line x1="249" y1="794.3" x2="2127.0" y2="794.3"/>
<line x1="249" y1="607.6" x2="2127.0" y2="607.6"/>
<line x1="249" y1="423.0" x2="2127.0" y2="423.0"/>
<line x1="249" y1="238.4" x2="2127.0" y2="238.4"/>
<line x1="249" y1="54.0" x2="2127.0" y2="54.0"/>
<line x1="268" y1="1810.2" x2="285.0" y2="1810.2"/>
<line x1="268" y1="1625.6" x2="285.0" y2="1625.6"/>
<line x1="268" y1="1441.0" x2="285.0" y2="1441.0"/>
<line x1="268" y1="1256.3" x2="285.0" y2="1256.3"/>
<line x1="268" y1="1072.0" x2="285.0" y2="1072.0"/>
<line x1="268" y1="887.8" x2="285.0" y2="887.8"/>
<line x1="268" y1="702.2" x2="285.0" y2="702.2"/>
<line x1="268" y1="516.6" x2="285.0" y2="516.6"/>
<line x1="268" y1="332.0" x2="285.0" y2="332.0"/>
<line x1="268" y1="147.5" x2="285.0" y2="147.5"/>
</g>
<g stroke="#000" stroke-width="3.4" fill="none">
<line x1="285.0" y1="52.5" x2="285.0" y2="1936"/>
<line x1="744.5" y1="52.5" x2="744.5" y2="1936"/>
<line x1="1203.3" y1="52.5" x2="1203.3" y2="1936"/>
<line x1="1665.6" y1="52.5" x2="1665.6" y2="1936"/>
<line x1="2125.3" y1="52.5" x2="2125.3" y2="1936"/>
<line x1="513.5" y1="1901.3" x2="513.5" y2="1918"/>
<line x1="975.0" y1="1901.3" x2="975.0" y2="1918"/>
<line x1="1435.0" y1="1901.3" x2="1435.0" y2="1918"/>
<line x1="1894.0" y1="1901.3" x2="1894.0" y2="1918"/>
</g>
<path d="M742.6,241.6 L1100.0,240.6 L1661.0,240.2 L1668.0,237.0 L2122.5,236.7 L1926.0,979.0 L1666.0,1714.7 L728.0,1714.7 L469.9,1667.4 L494.8,1536.0 L544.6,1277.0 L582.0,1080.0 L611.5,936.0 L640.0,794.0 L673.0,607.0Z" fill="none" stroke="#000" stroke-width="5.4" stroke-linejoin="miter"/>
<line x1="470" y1="1612" x2="470" y2="1668" stroke="#000" stroke-width="3.4"/>
<g><rect x="941.4" y="448.8" width="99.2" height="81.5" fill="#fff"/><text x="992.0" y="511.3" text-anchor="middle">10</text></g>
<g><rect x="851.4" y="683.6" width="70.0" height="81.5" fill="#fff"/><text x="887.4" y="745.7" text-anchor="middle">5</text></g>
<g><rect x="1053.9" y="856.0" width="85.9" height="81.5" fill="#fff"/><text x="1097.0" y="920.8" text-anchor="middle">-0</text></g>
<g><rect x="1317.8" y="889.2" width="85.9" height="81.5" fill="#fff"/><text x="1361.2" y="953.3" text-anchor="middle">-5</text></g>
<g><rect x="1698.5" y="786.2" width="119.0" height="81.5" fill="#fff"/><text x="1760.0" y="848.3" text-anchor="middle">-10</text></g>
<g><rect x="1680.2" y="962.2" width="119.0" height="81.5" fill="#fff"/><text x="1740.2" y="1026.3" text-anchor="middle">-15</text></g>
<g><rect x="1663.0" y="1071.8" width="119.0" height="81.5" fill="#fff"/><text x="1723.0" y="1135.8" text-anchor="middle">-20</text></g>
<g><rect x="902.0" y="1165.8" width="119.0" height="81.5" fill="#fff"/><text x="962.0" y="1229.8" text-anchor="middle">-10</text></g>
<g><rect x="1164.0" y="1233.2" width="119.0" height="81.5" fill="#fff"/><text x="1224.0" y="1297.3" text-anchor="middle">-20</text></g>
<g><rect x="1314.0" y="1324.2" width="119.0" height="81.5" fill="#fff"/><text x="1374.0" y="1388.3" text-anchor="middle">-30</text></g>
<g><rect x="1214.2" y="1454.8" width="119.0" height="81.5" fill="#fff"/><text x="1274.2" y="1518.8" text-anchor="middle">-40</text></g>
<g><rect x="1291.2" y="1555.0" width="119.0" height="81.5" fill="#fff"/><text x="1351.2" y="1619.0" text-anchor="middle">-50</text></g>
<g><rect x="1954.5" y="255.8" width="119.0" height="81.5" fill="#fff"/><text x="2016.8" y="320.3" text-anchor="middle">-50</text></g>
<g><rect x="1926.5" y="405.9" width="119.0" height="81.5" fill="#fff"/><text x="1985.3" y="470.5" text-anchor="middle">-40</text></g>
<g><rect x="693.9" y="117.2" width="99.2" height="70.0" fill="#fff"/><text x="743.5" y="172.6" text-anchor="middle">15</text></g>
<g><rect x="1153.9" y="117.2" width="99.2" height="70.0" fill="#fff"/><text x="1203.5" y="172.6" text-anchor="middle">10</text></g>
<g><rect x="1629.7" y="111.4" width="66.1" height="70.0" fill="#fff"/><text x="1662.7" y="166.8" text-anchor="middle">3</text></g>
<g clip-path="url(#plot)"><rect x="2064.1" y="111.4" width="85.9" height="70.0" fill="#fff"/><text x="2107.0" y="166.8" text-anchor="middle">-6</text></g>
<g><rect x="418.5" y="1540.8" width="99.0" height="71.0" fill="#fff"/><text x="468.0" y="1598.6" text-anchor="middle">-49</text></g>
<line x1="2125.3" y1="100" x2="2125.3" y2="200" stroke="#000" stroke-width="3.4"/>
<text x="230" y="1923.7" text-anchor="end">0</text>
<text x="230" y="1739.0" text-anchor="end">2</text>
<text x="230" y="1554.4" text-anchor="end">4</text>
<text x="230" y="1369.9" text-anchor="end">6</text>
<text x="230" y="1184.9" text-anchor="end">8</text>
<text x="230" y="1001.2" text-anchor="end">10</text>
<text x="230" y="816.7" text-anchor="end">12</text>
<text x="230" y="630.0" text-anchor="end">14</text>
<text x="230" y="445.4" text-anchor="end">16</text>
<text x="230" y="260.8" text-anchor="end">18</text>
<text x="230" y="76.4" text-anchor="end">20</text>
<text x="282.3" y="1988.6" text-anchor="middle">1000</text>
<text x="744.5" y="1988.6" text-anchor="middle">1500</text>
<text x="1202.5" y="1988.6" text-anchor="middle">2000</text>
<text x="1661.8" y="1988.6" text-anchor="middle">2500</text>
<text x="2124.7" y="1988.6" text-anchor="middle">3000</text>
<text x="1202.6" y="2077.2" text-anchor="middle" textLength="344.5" lengthAdjust="spacingAndGlyphs">Speed [RPM]</text>
<text transform="translate(119,975.4) rotate(-90)" text-anchor="middle" style="font-size:61px" textLength="307" lengthAdjust="spacingAndGlyphs">BMEP [bar]</text>
</svg></body></html>
